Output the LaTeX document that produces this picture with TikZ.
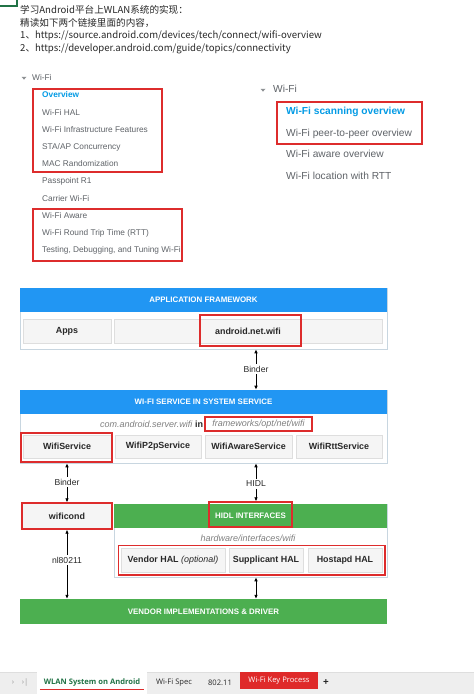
\documentclass[tikz,border=0pt]{standalone}
\usepackage{fontspec}
\setmainfont{Liberation Sans}
\newfontfamily\cjk{Noto Sans CJK SC}
\newfontfamily\tabfont{Open Sans}
\usetikzlibrary{arrows.meta,fit}
\definecolor{redc}{RGB}{221,44,44}
\definecolor{bluehdr}{RGB}{33,150,243}
\definecolor{greenhdr}{RGB}{76,175,80}
\definecolor{boxfill}{RGB}{245,245,245}
\definecolor{boxline}{RGB}{222,222,222}
\definecolor{outline}{RGB}{200,214,224}
\definecolor{menugray}{RGB}{95,99,104}
\definecolor{linkblue}{RGB}{3,155,229}
\definecolor{sheetgreen}{RGB}{33,115,70}
\definecolor{tabbg}{RGB}{238,238,238}
\definecolor{txt}{RGB}{40,40,40}
\begin{document}
\begin{tikzpicture}[x=1pt,y=-1pt,
  sz/.style 2 args={minimum width=#1pt, minimum height=#2pt, inner sep=0pt},
  topline/.style={anchor=west, inner sep=0pt, text=txt, font=\cjk\fontsize{9.6}{10}\selectfont},
  menu/.style={anchor=west, inner sep=0pt, text=menugray, text height=5.9pt, text depth=1.7pt, font=\fontsize{8.3}{9}\selectfont},
  rmenu/.style={anchor=west, inner sep=0pt, text=menugray, text height=7.3pt, text depth=2.1pt, font=\fontsize{10.2}{11}\selectfont},
  redbox/.style={draw=redc, line width=1.4pt, inner sep=0pt},
  outerbox/.style={draw=outline, line width=0.6pt, fill=white},
  hdrblue/.style={fill=bluehdr, text=white, font=\fontsize{7.9}{8}\selectfont\bfseries},
  hdrgreen/.style={fill=greenhdr, text=white, font=\fontsize{7.9}{8}\selectfont\bfseries},
  subbox/.style={fill=boxfill, draw=boxline, line width=0.6pt, text=txt, font=\fontsize{8.9}{9}\selectfont\bfseries},
  note/.style={inner sep=0pt, text=gray, font=\fontsize{9}{9}\selectfont\itshape},
  lbl/.style={inner sep=1.8pt, text=txt, font=\fontsize{8.6}{9}\selectfont},
  arr/.style={-{Latex[length=4pt,width=3.6pt]}, line width=0.8pt, black},
  tab/.style={inner sep=0pt, font=\tabfont\fontsize{7.6}{8}\selectfont}
]
\useasboundingbox (0,0) rectangle (474,694);
\fill[white] (0,0) rectangle (474,694);

% spreadsheet cell corner
\draw[sheetgreen, line width=1.2pt] (0,6) -- (17,6) -- (17,0);

% top text
\node[topline] (t1) at (20,10) {学习Android平台上WLAN系统的实现：};
\node[topline] (t2) at (20,23) {精读如下两个链接里面的内容，};
\node[topline] (t3) at (20,36) {1、https://source.android.com/devices/tech/connect/wifi-overview};
\node[topline] (t4) at (20,49) {2、https://developer.android.com/guide/topics/connectivity};

% left menu
\fill[menugray!70] (21.5,76.8) -- (26.5,76.8) -- (24,79.6) -- cycle;
\node[menu] (lw) at (32,78) {Wi-Fi};
\node[menu, text=linkblue, font=\fontsize{8.3}{9}\selectfont\bfseries] (m1) at (42,95.7) {Overview};
\node[menu] (m2) at (42,112.9) {Wi-Fi HAL};
\node[menu] (m3) at (42,130.1) {Wi-Fi Infrastructure Features};
\node[menu] (m4) at (42,147.3) {STA/AP Concurrency};
\node[menu] (m5) at (42,164.5) {MAC Randomization};
\node[menu] (m6) at (42,181.7) {Passpoint R1};
\node[menu] (m7) at (42,198.9) {Carrier Wi-Fi};
\node[menu] (m8) at (42,216.1) {Wi-Fi Aware};
\node[menu] (m9) at (42,233.3) {Wi-Fi Round Trip Time (RTT)};
\node[menu] (m10) at (42,250.5) {Testing, Debugging, and Tuning Wi-Fi};
\node[redbox, sz={129}{83}] (lr1) at (97.5,130.5) {};
\node[redbox, sz={149}{52}] (lr2) at (107.5,235) {};

% right menu
\fill[menugray!70] (260.5,88.8) -- (265.5,88.8) -- (263,91.6) -- cycle;
\node[rmenu] (rw) at (273,90) {Wi-Fi};
\node[rmenu, text=linkblue, font=\fontsize{10.2}{11}\selectfont\bfseries] (r1) at (286,112) {Wi-Fi scanning overview};
\node[rmenu] (r2) at (286,133.5) {Wi-Fi peer-to-peer overview};
\node[rmenu] (r3) at (286,155) {Wi-Fi aware overview};
\node[rmenu] (r4) at (286,177) {Wi-Fi location with RTT};
\node[redbox, sz={145}{42}] (rr) at (349.5,123) {};

% application framework
\node[outerbox, sz={367}{61}] (af) at (203.5,318.5) {};
\node[hdrblue, sz={367}{24}] (afh) at (203.5,300) {APPLICATION FRAMEWORK};
\node[subbox, sz={88}{24}] (apps) at (67,331) {Apps};
\node[subbox, sz={268}{24}] (anw) at (248,331) {android.net.wifi};
\node[redbox, sz={101}{31}] (anwr) at (250.5,330.5) {};

% wifi service
\node[outerbox, sz={367}{73}] (ws) at (203.5,426.5) {};
\node[hdrblue, sz={367}{24}] (wsh) at (203.5,402) {WI-FI SERVICE IN SYSTEM SERVICE};
\node[redbox, sz={107}{14}, note] (fw) at (258.5,424) {frameworks/opt/net/wifi};
\node[note, anchor=east] (pkg) at ([xshift=-1pt]fw.west) {com.android.server.wifi \textbf{\textup{\color{txt}in}}};
\node[subbox, sz={88}{23}] (wsvc) at (67,446.5) {WifiService};
\node[subbox, sz={86}{23}] (p2p) at (158,446.5) {WifiP2pService};
\node[subbox, sz={87}{23}] (aware) at (248.5,446.5) {WifiAwareService};
\node[subbox, sz={86}{23}] (rtt) at (339,446.5) {WifiRttService};
\node[redbox, sz={91}{29}] (wsvcr) at (66.5,447.5) {};

% wificond
\node[subbox, draw=redc, line width=1.4pt, sz={90}{26}] (wc) at (67,516) {wificond};

% HIDL interfaces
\node[outerbox, sz={273}{73}] (hi) at (250.5,540.5) {};
\node[hdrgreen, sz={273}{24}] (hih) at (250.5,516) {HIDL INTERFACES};
\node[redbox, sz={83}{25}] (hihr) at (250.5,514.5) {};
\node[note] (hw) at (248,538) {hardware/interfaces/wifi};
\node[subbox, sz={104}{24}] (vhal) at (173,560) {Vendor HAL \textit{\mdseries(optional)}};
\node[subbox, sz={74}{24}] (shal) at (266,560) {Supplicant HAL};
\node[subbox, sz={74}{24}] (hhal) at (345,560) {Hostapd HAL};
\node[redbox, fit=(vhal)(shal)(hhal), inner sep=2.5pt] (halr) {};

% vendor
\node[hdrgreen, sz={367}{25}] (vd) at (203.5,611.5) {VENDOR IMPLEMENTATIONS \& DRIVER};

% connectors
\node[lbl] (b1) at (256,369) {Binder};
\draw[arr] (b1.north) -- (b1.north |- af.south);
\draw[arr] (b1.south) -- (b1.south |- ws.north);
\node[lbl] (b2) at (67,482) {Binder};
\draw[arr] (b2.north) -- (b2.north |- ws.south);
\draw[arr] (b2.south) -- (b2.south |- wc.north);
\node[lbl] (hd) at (256,484) {HIDL};
\draw[arr] (hd.north) -- (hd.north |- ws.south);
\draw[arr] (hd.south) -- (hd.south |- hihr.north);
\node[lbl] (nl) at (67,560) {nl80211};
\draw[arr] (nl.north) -- (nl.north |- wc.south);
\draw[arr] (nl.south) -- (nl.south |- vd.north);
\draw[{Latex[length=4pt,width=3.6pt]}-{Latex[length=4pt,width=3.6pt]}, line width=0.8pt] (hi.south -| hd) -- (vd.north -| hd);

% sheet tab bar
\node[fill=tabbg, sz={474}{22}] (bar) at (237,683) {};
\draw[boxline, line width=0.6pt] (bar.north west) -- (bar.north east);
\node[tab, text=gray!80] (nx) at (13,683) {›};
\node[tab, text=gray!80] (nl2) at (25,683) {›|};
\node[tab, fill=white, sz={110}{22}, text=sheetgreen, font=\tabfont\fontsize{7.6}{8}\selectfont\bfseries] (s1) at (92,683) {WLAN System on Android};
\draw[redc, line width=1pt] ([xshift=3pt,yshift=5pt]s1.south west) -- ([xshift=-3pt,yshift=5pt]s1.south east);
\node[tab, text=txt] (s2) at (174,683) {Wi-Fi Spec};
\node[tab, text=txt] (s3) at (220,683) {802.11};
\node[tab, fill=redc!95!red, text=white, sz={78}{17}] (s4) at (279,680.5) {Wi-Fi Key Process};
\node[tab, text=txt, font=\tabfont\fontsize{10}{10}\selectfont\bfseries] (plus) at (326,683) {+};
\end{tikzpicture}
\end{document}
